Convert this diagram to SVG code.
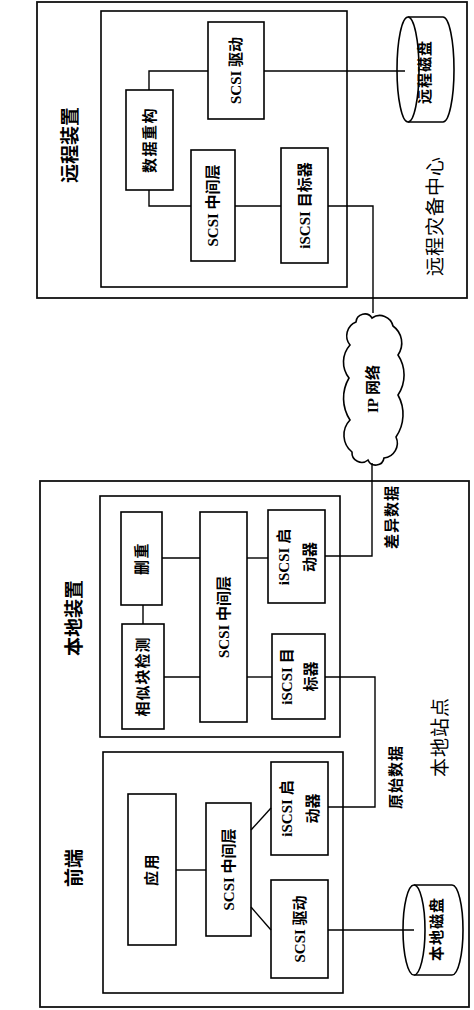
<svg xmlns="http://www.w3.org/2000/svg" width="474" height="1010" viewBox="0 0 474 1010">
<style>
.box{fill:none;stroke:#000;stroke-width:1.6}
.frame{fill:none;stroke:#111;stroke-width:1.8}
.ln{fill:none;stroke:#000;stroke-width:1.4}
.t{font-family:"Liberation Serif","Noto Sans CJK SC",serif;font-weight:bold;font-size:15px;fill:#000;text-anchor:middle;dominant-baseline:central}
.big{font-family:"Noto Sans CJK SC","Liberation Sans",sans-serif;font-weight:bold;font-size:19px;fill:#000;text-anchor:middle;dominant-baseline:central}
.site{font-family:"Noto Sans CJK SC","Liberation Sans",sans-serif;font-weight:normal;font-size:19px;fill:#000;text-anchor:middle;dominant-baseline:central;letter-spacing:1px}
.cyl{fill:#fff;stroke:#000;stroke-width:1.6}
</style>
<rect width="474" height="1010" fill="#fff"/>

<g id="remote-center">
<rect class="frame" x="37" y="2" width="430" height="296"/>
<text class="site" transform="translate(433,216) rotate(-90)">远程灾备中心</text>
</g>
<g id="remote-device">
<rect class="box" x="101" y="11" width="246" height="276"/>
<text class="big" transform="translate(68,145) rotate(-90)">远程装置</text>
</g>
<g id="remote-scsi-driver">
<rect class="box" x="208" y="22" width="56" height="97"/>
<text class="t" transform="translate(236,70.5) rotate(-90)">SCSI 驱动</text>
</g>
<g id="remote-data-rebuild">
<rect class="box" x="126" y="90" width="47" height="100"/>
<text class="t" letter-spacing="1.5" transform="translate(149.5,140) rotate(-90)">数据重构</text>
</g>
<g id="remote-scsi-mid">
<rect class="box" x="191" y="150" width="44" height="111"/>
<text class="t" transform="translate(213,205.5) rotate(-90)">SCSI 中间层</text>
</g>
<g id="remote-iscsi-target">
<rect class="box" x="281" y="148" width="47" height="115"/>
<text class="t" transform="translate(304.5,205.5) rotate(-90)">iSCSI 目标器</text>
</g>
<g id="remote-disk">
<path class="cyl" d="M408,17 L443,17 A11,52.5 0 0 1 443,122 L408,122"/>
<ellipse class="cyl" cx="408" cy="69.5" rx="11" ry="52.5"/>
<text class="t" letter-spacing="1" transform="translate(425,72) rotate(-90)">远程磁盘</text>
</g>

<g id="cloud">
<path class="box" d="M372,318 A13.5,13.5 0 0 1 393,326 A21,21 0 0 1 398,355 A36,36 0 0 1 398,395 A40,40 0 0 1 396,437 A15,15 0 0 1 384,458 A8.4,8.4 0 0 1 368,460 A9.7,9.7 0 0 1 352,452 A21.8,21.8 0 0 1 350,420 A40,40 0 0 1 349,378 A25.7,25.7 0 0 1 350,345 A14.8,14.8 0 0 1 356,322 A8.7,8.7 0 0 1 372,318 Z"/>
<text class="t" transform="translate(373,389) rotate(-90)">IP 网络</text>
</g>

<g id="local-site">
<rect class="frame" x="40" y="481" width="429" height="526"/>
<text class="site" transform="translate(438,737) rotate(-90)">本地站点</text>
</g>
<g id="local-device">
<rect class="box" x="100" y="496" width="240" height="241"/>
<text class="big" transform="translate(72,618) rotate(-90)">本地装置</text>
</g>
<g id="dedup">
<rect class="box" x="121" y="512" width="41" height="93"/>
<text class="t" letter-spacing="1.5" transform="translate(141.5,558.5) rotate(-90)">删重</text>
</g>
<g id="similar-detect">
<rect class="box" x="122" y="624" width="42" height="105"/>
<text class="t" letter-spacing="1" transform="translate(143,676.5) rotate(-90)">相似块检测</text>
</g>
<g id="local-scsi-mid">
<rect class="box" x="200" y="512" width="47" height="210"/>
<text class="t" transform="translate(223.5,617) rotate(-90)">SCSI 中间层</text>
</g>
<g id="local-iscsi-init">
<rect class="box" x="268" y="510" width="57" height="93"/>
<text class="t" transform="translate(296.5,557) rotate(-90)"><tspan x="0" y="-13">iSCSI 启</tspan><tspan x="0" y="13">动器</tspan></text>
</g>
<g id="local-iscsi-target">
<rect class="box" x="272" y="634" width="53" height="85"/>
<text class="t" transform="translate(298.5,676.5) rotate(-90)"><tspan x="0" y="-12">iSCSI 目</tspan><tspan x="0" y="12">标器</tspan></text>
</g>

<g id="frontend">
<rect class="box" x="103" y="752" width="240" height="241"/>
<text class="big" transform="translate(72,868) rotate(-90)">前端</text>
</g>
<g id="app">
<rect class="box" x="128" y="794" width="48" height="151"/>
<text class="t" letter-spacing="1.5" transform="translate(152,869.5) rotate(-90)">应用</text>
</g>
<g id="front-scsi-mid">
<rect class="box" x="206" y="803" width="45" height="133"/>
<text class="t" transform="translate(228.5,869.5) rotate(-90)">SCSI 中间层</text>
</g>
<g id="front-iscsi-init">
<rect class="box" x="271" y="762" width="57" height="93"/>
<text class="t" transform="translate(299.5,808.5) rotate(-90)"><tspan x="0" y="-13">iSCSI 启</tspan><tspan x="0" y="13">动器</tspan></text>
</g>
<g id="front-scsi-driver">
<rect class="box" x="271" y="880" width="57" height="98"/>
<text class="t" transform="translate(299.5,929) rotate(-90)">SCSI 驱动</text>
</g>
<g id="local-disk">
<path class="cyl" d="M414,885 L452,885 A11,45 0 0 1 452,975 L414,975"/>
<ellipse class="cyl" cx="414" cy="930" rx="11" ry="45"/>
<text class="t" letter-spacing="1" transform="translate(437,929) rotate(-90)">本地磁盘</text>
</g>

<g id="labels">
<text class="t" letter-spacing="1" transform="translate(392,517) rotate(-90)">差异数据</text>
<text class="t" letter-spacing="1" transform="translate(396,777) rotate(-90)">原始数据</text>
</g>

<g id="connectors">
<polyline class="ln" points="264,71 405,71"/>
<polyline class="ln" points="149,90 149,71 208,71"/>
<polyline class="ln" points="149,190 149,206 191,206"/>
<polyline class="ln" points="235,206 281,206"/>
<polyline class="ln" points="328,206 373,206 373,313"/>
<polyline class="ln" points="372,463 372,556 325,556"/>
<polyline class="ln" points="143,605 143,624"/>
<polyline class="ln" points="162,558 200,558"/>
<polyline class="ln" points="247,558 268,558"/>
<polyline class="ln" points="164,677 200,677"/>
<polyline class="ln" points="247,677 272,677"/>
<polyline class="ln" points="325,677 375,677 375,807 328,807"/>
<polyline class="ln" points="176,870 206,870"/>
<polyline class="ln" points="251,830 271,808"/>
<polyline class="ln" points="251,907 271,930"/>
<polyline class="ln" points="328,930 414,930"/>
</g>
</svg>
